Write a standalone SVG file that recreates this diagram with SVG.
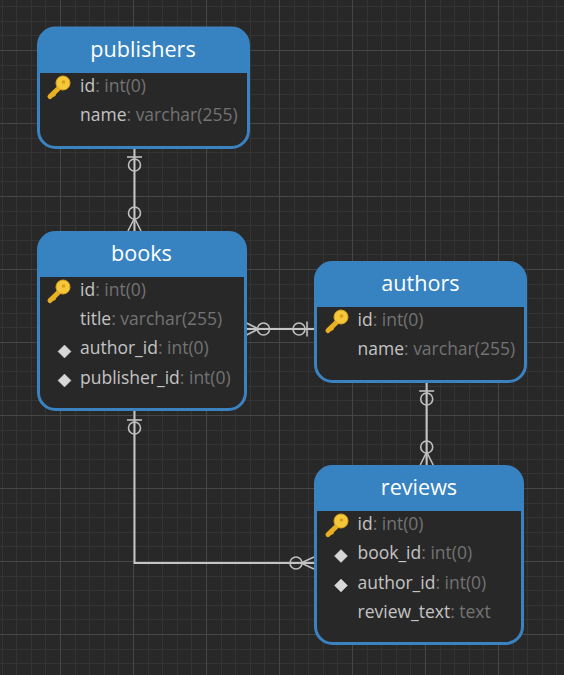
<svg xmlns="http://www.w3.org/2000/svg" width="564" height="675" viewBox="0 0 564 675">
<style>
.grid{fill:none;stroke:#343434;stroke-width:1}
.major{fill:none;stroke:#464646;stroke-width:1}
.card{fill:#282828;stroke:#3a82c0;stroke-width:3}
.head{fill:#3782c0}
.title{font:500 21.6px "Open Sans","Noto Sans",sans-serif;fill:#fff;text-anchor:middle}
.f{font:17.5px "Open Sans","Noto Sans",sans-serif;fill:#c4c4c4}
.t{fill:#737373}
.c{fill:none;stroke:#c4c4c4;stroke-width:2}
.m{fill:none;stroke:#c0c0c0;stroke-width:1.6}
</style>
<defs>
<g id="key"><path d="M-13 13.5L-2 3" fill="none" stroke="#e8b020" stroke-width="5" stroke-linecap="round"/><path d="M-11 9.500l3 3.500" fill="none" stroke="#e8b020" stroke-width="3"/><circle r="7" fill="#f5c83c" stroke="#dca41c" stroke-width="1"/><circle r="1.800" cx="0.500" cy="-1" fill="#d89c18"/></g>
<path id="dia" d="M0-6.500L6.500 0L0 6.500L-6.500 0Z" fill="#d8d8d8" stroke="#d8d8d8" stroke-width="1" stroke-opacity=".45"/>
<g id="tickV"><path class="m" d="M-7.500 0H7.500"/><circle class="m" cy="8" r="6"/></g>
<g id="crowV"><circle class="m" cy="-18" r="6"/><path class="m" d="M-6.500 0L0-13L6.500 0"/></g>
</defs>
<rect width="564" height="675" fill="#282828"/>
<path class="grid" d="M2.500 0V675M16.500 0V675M31.500 0V675M45.500 0V675M75.500 0V675M89.500 0V675M104.500 0V675M118.500 0V675M148.500 0V675M162.500 0V675M177.500 0V675M191.500 0V675M221.500 0V675M235.500 0V675M250.500 0V675M264.500 0V675M294.500 0V675M308.500 0V675M323.500 0V675M337.500 0V675M367.500 0V675M381.500 0V675M396.500 0V675M410.500 0V675M440.500 0V675M454.500 0V675M469.500 0V675M483.500 0V675M513.500 0V675M527.500 0V675M542.500 0V675M556.500 0V675M0 6.500H564M0 21.500H564M0 35.500H564M0 65.500H564M0 79.500H564M0 94.500H564M0 108.500H564M0 138.500H564M0 152.500H564M0 167.500H564M0 181.500H564M0 211.500H564M0 225.500H564M0 240.500H564M0 254.500H564M0 284.500H564M0 298.500H564M0 313.500H564M0 327.500H564M0 357.500H564M0 371.500H564M0 386.500H564M0 400.500H564M0 430.500H564M0 444.500H564M0 459.500H564M0 473.500H564M0 503.500H564M0 517.500H564M0 532.500H564M0 546.500H564M0 576.500H564M0 590.500H564M0 605.500H564M0 619.500H564M0 649.500H564M0 663.500H564"/>
<path class="major" d="M60.500 0V675M133.500 0V675M206.500 0V675M279.500 0V675M352.500 0V675M425.500 0V675M498.500 0V675M0 50.500H564M0 123.500H564M0 196.500H564M0 269.500H564M0 342.500H564M0 415.500H564M0 488.500H564M0 561.500H564M0 634.500H564"/>
<g id="connectors">
<path class="c" d="M134.500 149V231"/>
<use href="#tickV" x="134.500" y="157"/>
<use href="#crowV" x="134.500" y="231"/>
<path class="c" d="M247 329H314"/>
<g transform="translate(245.500 329) rotate(90)"><use href="#crowV"/></g>
<path class="m" d="M307 321.500V336.500"/><circle class="m" cx="299" cy="329" r="6"/>
<path class="c" d="M134.500 411V563H314"/>
<use href="#tickV" x="134.500" y="420"/>
<path class="m" d="M314 557L301 563L314 569"/><circle class="m" cx="296" cy="563" r="6"/>
<path class="c" d="M426.700 383V465"/>
<use href="#tickV" x="426.700" y="391"/>
<use href="#crowV" x="426.700" y="465"/>
</g>
<g id="publishers">
<rect class="card" x="38.500" y="28" width="210" height="119.500" rx="17"/>
<path class="head" d="M38.500 73V45a17 17 0 0 1 17-17H231.500a17 17 0 0 1 17 17V73Z"/>
<text class="title" x="143" y="57">publishers</text>
<use href="#key" x="63" y="83"/>
<text class="f" x="80" y="92">id<tspan class="t">: int(0)</tspan></text>
<text class="f" x="80" y="121">name<tspan class="t">: varchar(255)</tspan></text>
</g>
<g id="books">
<rect class="card" x="38.500" y="232.500" width="207" height="177" rx="17"/>
<path class="head" d="M38.500 277V249.500a17 17 0 0 1 17-17H228.500a17 17 0 0 1 17 17V277Z"/>
<text class="title" x="141.500" y="261">books</text>
<use href="#key" x="63" y="287"/>
<text class="f" x="80" y="296">id<tspan class="t">: int(0)</tspan></text>
<text class="f" x="80" y="325">title<tspan class="t">: varchar(255)</tspan></text>
<use href="#dia" x="64.500" y="351.500"/>
<text class="f" x="80" y="354">author_id<tspan class="t">: int(0)</tspan></text>
<use href="#dia" x="64.500" y="380.500"/>
<text class="f" x="80" y="384">publisher_id<tspan class="t">: int(0)</tspan></text>
</g>
<g id="authors">
<rect class="card" x="315.500" y="262.500" width="210" height="119" rx="17"/>
<path class="head" d="M315.500 307V279.500a17 17 0 0 1 17-17H508.500a17 17 0 0 1 17 17V307Z"/>
<text class="title" x="420.500" y="291">authors</text>
<use href="#key" x="341" y="317"/>
<text class="f" x="357.500" y="326">id<tspan class="t">: int(0)</tspan></text>
<text class="f" x="357.500" y="355">name<tspan class="t">: varchar(255)</tspan></text>
</g>
<g id="reviews">
<rect class="card" x="315.500" y="466.500" width="207" height="177" rx="17"/>
<path class="head" d="M315.500 511V483.500a17 17 0 0 1 17-17H505.500a17 17 0 0 1 17 17V511Z"/>
<text class="title" x="419" y="495">reviews</text>
<use href="#key" x="341" y="521"/>
<text class="f" x="357.500" y="530">id<tspan class="t">: int(0)</tspan></text>
<use href="#dia" x="341" y="556"/>
<text class="f" x="357.500" y="559">book_id<tspan class="t">: int(0)</tspan></text>
<use href="#dia" x="341" y="585.500"/>
<text class="f" x="357.500" y="589">author_id<tspan class="t">: int(0)</tspan></text>
<text class="f" x="357.500" y="618">review_text<tspan class="t">: text</tspan></text>
</g>
</svg>
